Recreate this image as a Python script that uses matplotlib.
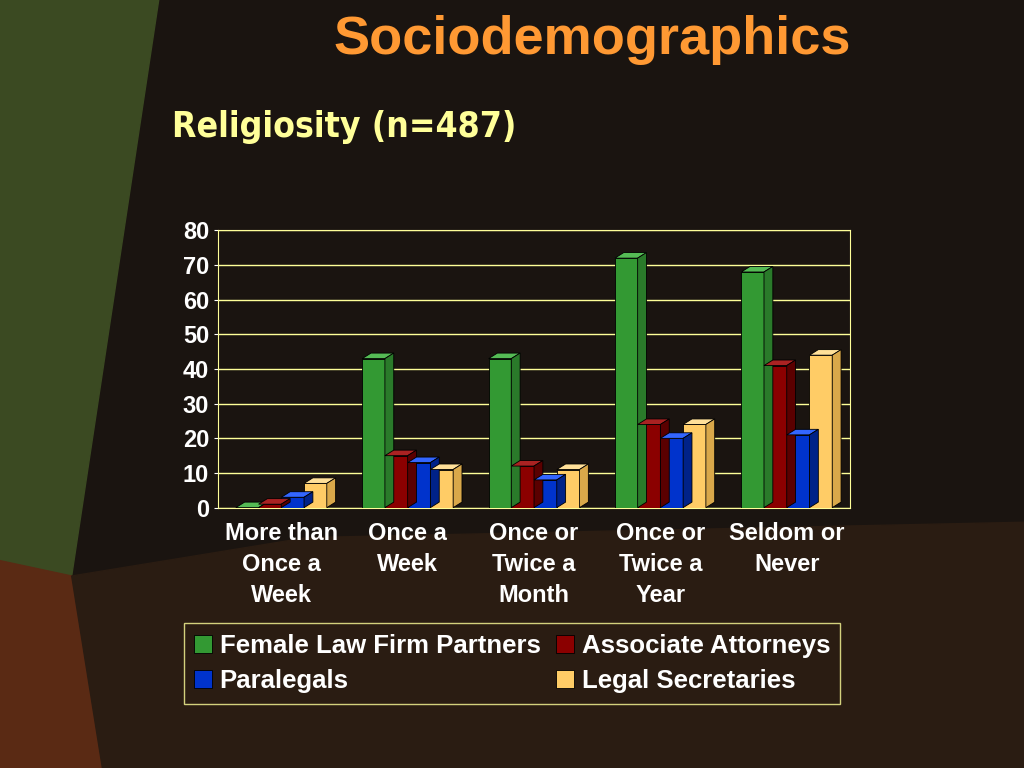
import matplotlib.pyplot as plt
import numpy as np
from matplotlib.patches import Polygon, Rectangle

plt.rcParams["font.family"] = "Liberation Sans"

categories = ["More than\nOnce a\nWeek", "Once a\nWeek", "Once or\nTwice a\nMonth", "Once or\nTwice a\nYear", "Seldom or\nNever"]
partners = [0, 43, 43, 72, 68]
associates = [1, 15, 12, 24, 41]
paralegals = [3, 13, 8, 20, 21]
secretaries = [7, 11, 11, 24, 44]
series = [("Female Law Firm Partners", partners, "#339933", "#2a7a2a", "#55bb55"),
          ("Associate Attorneys", associates, "#8b0000", "#5a0000", "#aa2222"),
          ("Paralegals", paralegals, "#0033cc", "#002288", "#3366ff"),
          ("Legal Secretaries", secretaries, "#ffcc66", "#d9a84a", "#ffe099")]

fig = plt.figure(figsize=(10.24, 7.68), dpi=100)
bg = fig.add_axes([0, 0, 1, 1])
bg.set_xlim(0, 1); bg.set_ylim(0, 1); bg.axis("off")
bg.add_patch(Rectangle((0, 0), 1, 1, color="#1a1410"))
bg.add_patch(Polygon([(0, 1), (0.155, 1), (0.07, 0.25), (0, 0.27)], color="#3b4a22"))
bg.add_patch(Polygon([(0, 0.27), (0.07, 0.25), (0.1, 0), (0, 0)], color="#5a2a14"))
bg.add_patch(Polygon([(0.07, 0.25), (0.3, 0.3), (1, 0.32), (1, 0), (0.1, 0)], color="#2a1c12"))

fig.text(0.578, 0.948, "Sociodemographics", color="#ff9933", fontsize=39, fontweight="bold", ha="center", va="center")
fig.text(0.168, 0.835, "Religiosity (n=487)", color="#ffff99", fontsize=25.5, fontweight="bold",
         ha="left", va="center", family="DejaVu Sans", stretch="condensed")

ax = fig.add_axes([0.213, 0.339, 0.617, 0.361])
ax.set_facecolor("none")
ax.set_ylim(0, 80)
ax.set_xlim(-0.5, 4.5)
ax.set_yticks(range(0, 81, 10))
ax.yaxis.grid(True, color="#ffff99", lw=1)
ax.set_axisbelow(True)
for s in ax.spines.values():
    s.set_color("#ffff99")
ax.tick_params(colors="white", labelsize=17, length=3)
for t in ax.get_yticklabels():
    t.set_fontweight("bold")
x = np.arange(len(categories))
ax.set_xticks(x)
ax.set_xticklabels(categories, fontsize=17, fontweight="bold", color="white", va="top", linespacing=1.45)
ax.tick_params(axis="x", length=0, pad=10)

w = 0.18
dx, dy = 0.07, 1.6
handles = []
for i, (name, vals, c, side, top) in enumerate(series):
    xs = x - 1.5 * w + i * w
    h = ax.bar(xs, vals, w, color=c, edgecolor="black", lw=0.6, label=name, zorder=3)
    handles.append(h)
    for xx, v in zip(xs, vals):
        l, r = xx - w / 2, xx + w / 2
        ax.add_patch(Polygon([(l, v), (l + dx, v + dy), (r + dx, v + dy), (r, v)], closed=True,
                             facecolor=top, edgecolor="black", lw=0.6, zorder=4))
        ax.add_patch(Polygon([(r, 0), (r + dx, dy), (r + dx, v + dy), (r, v)], closed=True,
                             facecolor=side, edgecolor="black", lw=0.6, zorder=4))

leg = fig.legend(handles=[handles[0], handles[2], handles[1], handles[3]],
                 labels=[series[0][0], series[2][0], series[1][0], series[3][0]],
                 loc="center", bbox_to_anchor=(0.5, 0.136), ncol=2, fontsize=18.5,
                 frameon=True, facecolor="none", edgecolor="#ffff99",
                 handlelength=0.7, handleheight=0.7, handletextpad=0.3, columnspacing=0.6,
                 labelspacing=0.45, fancybox=False, borderpad=0.4)
leg.get_frame().set_linewidth(1)
for t in leg.get_texts():
    t.set_color("white"); t.set_fontweight("bold")

fig.savefig("out.png", dpi=100)
